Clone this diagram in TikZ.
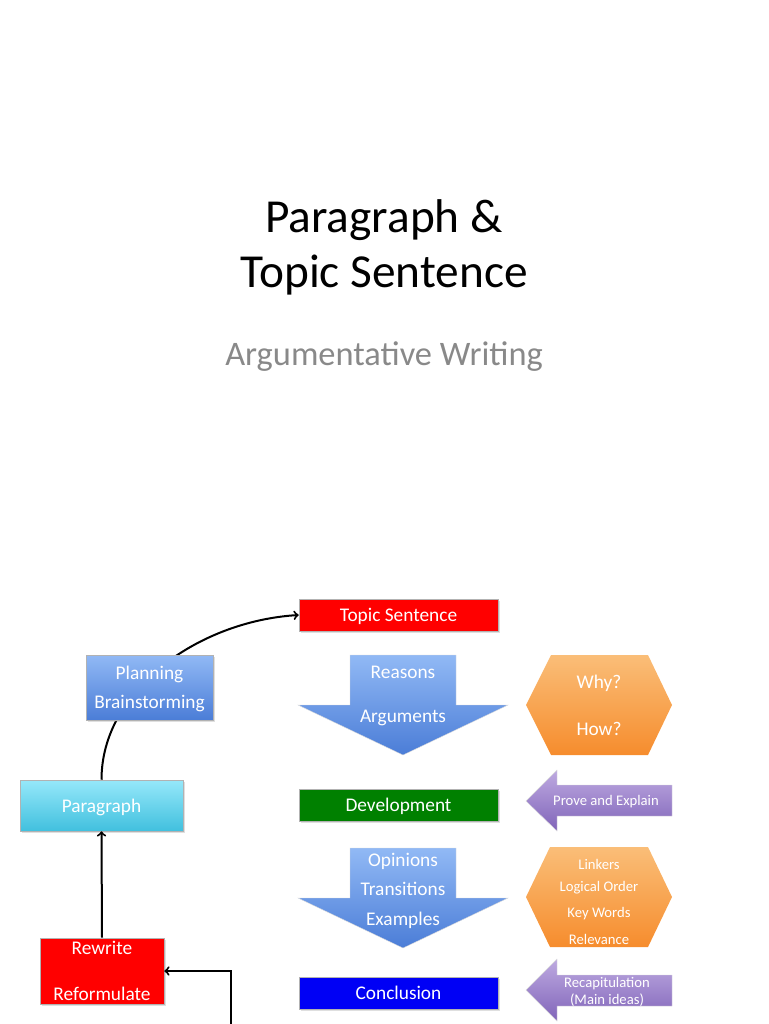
\documentclass[tikz,border=0pt]{standalone}
\usepackage{fontspec}
\setmainfont{Carlito}
\usetikzlibrary{shadows}

\definecolor{titlegray}{RGB}{137,137,137}
\definecolor{boxred}{RGB}{255,0,0}
\definecolor{boxgreen}{RGB}{0,128,0}
\definecolor{boxblue}{RGB}{0,0,245}
\definecolor{planTop}{RGB}{145,185,245}
\definecolor{planBot}{RGB}{75,125,215}
\definecolor{paraTop}{RGB}{150,232,250}
\definecolor{paraBot}{RGB}{65,192,222}
\definecolor{orangeTop}{RGB}{250,190,120}
\definecolor{orangeBot}{RGB}{246,140,45}
\definecolor{purpleTop}{RGB}{190,170,225}
\definecolor{purpleBot}{RGB}{128,100,185}

\begin{document}
\begin{tikzpicture}[x=0.75pt, y=-0.75pt,
    box/.style={draw=black!30, line width=0.4pt, text=white, inner sep=0pt,
        font=\fontsize{14.5}{17}\selectfont, align=center, text depth=0pt,
        drop shadow={opacity=0.25, shadow xshift=1.5pt, shadow yshift=-1.5pt}},
    word/.style={text=white, inner sep=0pt, font=\fontsize{14.5}{17}\selectfont},
    small/.style={text=white, inner sep=0pt, font=\fontsize{11}{13}\selectfont},
    link/.style={line width=1.5pt, ->}]

    \useasboundingbox (0,0) rectangle (768,1024);

    % Title
    \node[anchor=base, font=\fontsize{35.5}{40}\selectfont] (title1) at (384,232) {Paragraph \&};
    \node[anchor=base, font=\fontsize{35.5}{40}\selectfont] (title2) at (384,287) {Topic Sentence};
    \node[anchor=base, text=titlegray, font=\fontsize{25.8}{30}\selectfont] (subtitle) at (384,365) {Argumentative Writing};

    % Middle column
    \node[box, fill=boxred, minimum width=199*0.75pt, minimum height=32*0.75pt] (topic) at (398.5,615) {Topic Sentence};
    \node[box, fill=boxgreen, minimum width=199*0.75pt, minimum height=32*0.75pt] (devel) at (398.5,805) {Development};
    \node[box, fill=boxblue, minimum width=199*0.75pt, minimum height=32*0.75pt] (concl) at (398.5,993) {Conclusion};

    % Down arrows
    \shade[top color=planTop, bottom color=planBot, draw=black!15, line width=0.3pt]
        (350,655) -- (456,655) -- (456,705) -- (508,705) -- (403,755)
        -- (298,705) -- (350,705) -- cycle;
    \node[word] (reasons) at (403,672) {Reasons};
    \node[word] (args) at (403,718) {Arguments};

    \shade[top color=planTop, bottom color=planBot, draw=black!15, line width=0.3pt]
        (350,848) -- (456,848) -- (456,898) -- (508,898) -- (403,948)
        -- (298,898) -- (350,898) -- cycle;
    \node[word] (opinions) at (403,861) {Opinions};
    \node[word] (trans) at (403,889) {Transitions};
    \node[word] (examples) at (403,920) {Examples};

    % Right column
    \shade[top color=orangeTop, bottom color=orangeBot]
        (526,705) -- (551,655) -- (648,655) -- (672,705) -- (648,755) -- (551,755) -- cycle;
    \node[word] (why) at (599,683) {Why?};
    \node[word] (how) at (599,729) {How?};

    \shade[top color=purpleTop, bottom color=purpleBot, draw=black!15, line width=0.3pt]
        (526,801) -- (557,770) -- (557,785) -- (672,785) -- (672,816)
        -- (557,816) -- (557,831) -- cycle;
    \node[small] (prove) at (606,802) {Prove and Explain};

    \shade[top color=orangeTop, bottom color=orangeBot]
        (526,897) -- (550,847) -- (648,847) -- (672,897) -- (648,947) -- (550,947) -- cycle;
    \node[small] (linkers) at (599,864) {Linkers};
    \node[small] (logic) at (599,888) {Logical Order};
    \node[small] (keywords) at (599,914) {Key Words};
    \node[small] (relevance) at (599,939) {Relevance};

    \shade[top color=purpleTop, bottom color=purpleBot, draw=black!15, line width=0.3pt]
        (526,990) -- (557,959) -- (557,975) -- (672,975) -- (672,1006)
        -- (557,1006) -- (557,1021) -- cycle;
    \node[small] (recap) at (607,984) {Recapitulation};
    \node[small] (mainideas) at (607,1000) {(Main ideas)};

    % Left column
    \node[box, top color=paraTop, bottom color=paraBot, minimum width=163*0.75pt, minimum height=51*0.75pt] (para) at (101.5,805.5) {Paragraph};
    \node[box, fill=boxred, minimum width=124*0.75pt, minimum height=66*0.75pt] (rewrite) at (102,971) {Rewrite\\[17pt]Reformulate};

    % Connectors
    \draw[link] (para.north) .. controls +(0,-90) and +(-100,6) .. (topic.west);
    \draw[link] (rewrite.north) -- (para.south);
    \coordinate (feed) at (231,1024);
    \draw[link] (feed) |- (rewrite.east);

    % Planning box on top of the curve
    \node[box, top color=planTop, bottom color=planBot, minimum width=127*0.75pt, minimum height=65*0.75pt] (plan) at (149.5,687.5) {Planning\\[5pt]Brainstorming};

\end{tikzpicture}
\end{document}
